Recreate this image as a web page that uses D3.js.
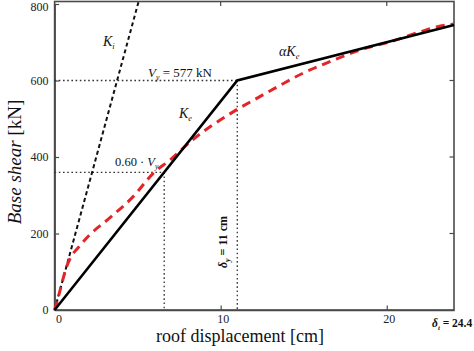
<!DOCTYPE html>
<html>
<head>
<meta charset="utf-8">
<script src="https://cdn.jsdelivr.net/npm/d3@7"></script>
<style>
  body { margin: 0; background: #fff; }
  svg { display: block; font-family: "Liberation Serif", "Times New Roman", serif; }
</style>
</head>
<body>
<svg id="chart" width="474" height="351"></svg>
<script>
"use strict";

// capacity curve (red dashed), displacement [cm] / base shear [kN]
const capX = [0, 0.15, 0.45, 0.7, 1.0, 1.4, 2.1, 3.3, 4.7, 6.0, 6.95, 8.15, 10.75, 12.2, 13.6, 15.0, 16.4, 17.6, 18.4, 20.2, 22.0, 23.0, 24.05];
const capY = [0, 22, 72, 110, 140, 162, 196, 240, 295, 360, 392, 439, 518, 554, 588, 620, 646, 667, 680, 701, 727, 740, 748];

// idealized bilinear curve (black solid)
const biX = [0, 11, 24.05];
const biY = [0, 600, 745];

// initial stiffness Ki (black dashed)
const kiX = [0, 5.05];
const kiY = [0, 805];

const yieldDisp = 11, yieldShear = 600;
const frac = 0.60;

const xTicks = [0, 10, 20];
const yTicks = [0, 200, 400, 600, 800];

const svg = d3.select("#chart");
const x = d3.scaleLinear().domain([0, 24.05]).range([54.6, 454]);
const y = d3.scaleLinear().domain([0, 800]).range([310, 4]);

const axisCol = "#4a4a4a";

// frame
svg.append("rect")
  .attr("x", x(0)).attr("y", 1.5)
  .attr("width", x(24.05) - x(0)).attr("height", y(0) - 1.5)
  .attr("fill", "none").attr("stroke", axisCol).attr("stroke-width", 1.6);

// top / right inner ticks
svg.append("g").selectAll("line").data(xTicks.filter(d => d > 0)).join("line")
  .attr("x1", d => x(d)).attr("x2", d => x(d)).attr("y1", 1.5).attr("y2", 6)
  .attr("stroke", axisCol).attr("stroke-width", 1.2);
svg.append("g").selectAll("line").data(yTicks.filter(d => d > 0 && d < 800)).join("line")
  .attr("x1", x(24.05)).attr("x2", x(24.05) - 4.5).attr("y1", d => y(d)).attr("y2", d => y(d))
  .attr("stroke", axisCol).attr("stroke-width", 1.2);

// axes
const gx = svg.append("g")
  .attr("transform", `translate(0,${y(0)})`)
  .call(d3.axisBottom(x).tickValues(xTicks).tickSizeInner(-4.5).tickSizeOuter(0).tickPadding(4.5));
const gy = svg.append("g")
  .attr("transform", `translate(${x(0)},0)`)
  .call(d3.axisLeft(y).tickValues(yTicks).tickSizeInner(-4.5).tickSizeOuter(0).tickPadding(6));

[gx, gy].forEach(g => {
  g.select(".domain").attr("stroke", axisCol).attr("stroke-width", 1.6);
  g.selectAll(".tick line").attr("stroke", axisCol).attr("stroke-width", 1.2);
  g.selectAll(".tick text")
    .attr("font-family", "Liberation Serif, serif")
    .attr("font-size", 12).attr("fill", "#222");
});
gx.selectAll(".tick text").attr("dx", d => d === 0 ? 4 : 2);
gx.selectAll(".tick line").filter(d => d === 0).remove();
gy.selectAll(".tick line").filter(d => d === 0).remove();
gy.selectAll(".tick text").filter(d => d === 800).attr("dy", "0.55em");

// dotted guide lines
const guides = [
  [[0, yieldShear], [yieldDisp, yieldShear]],
  [[yieldDisp, yieldShear], [yieldDisp, 0]],
  [[0, frac * yieldShear], [frac * yieldDisp, frac * yieldShear]],
  [[frac * yieldDisp, frac * yieldShear], [frac * yieldDisp, 0]]
];
svg.append("g").selectAll("line").data(guides).join("line")
  .attr("x1", d => x(d[0][0])).attr("y1", d => y(d[0][1]))
  .attr("x2", d => x(d[1][0])).attr("y2", d => y(d[1][1]))
  .attr("stroke", "#333").attr("stroke-width", 1.3)
  .attr("stroke-dasharray", "1.6,2.6");

const line = d3.line().x(d => x(d[0])).y(d => y(d[1]));

// Ki
svg.append("path")
  .datum(kiX.map((d, i) => [d, kiY[i]]))
  .attr("d", line).attr("fill", "none")
  .attr("stroke", "#111").attr("stroke-width", 2)
  .attr("stroke-dasharray", "4,3");

// capacity curve
svg.append("path")
  .datum(capX.map((d, i) => [d, capY[i]]))
  .attr("d", d3.line().x(d => x(d[0])).y(d => y(d[1])).curve(d3.curveMonotoneX))
  .attr("fill", "none")
  .attr("stroke", "#e3252a").attr("stroke-width", 3)
  .attr("stroke-dasharray", "9,6");

// bilinear
svg.append("path")
  .datum(biX.map((d, i) => [d, biY[i]]))
  .attr("d", line).attr("fill", "none")
  .attr("stroke", "#000").attr("stroke-width", 2.6)
  .attr("stroke-linejoin", "miter");

// annotations
function label(px, py, parts, size) {
  const t = svg.append("text").attr("x", px).attr("y", py)
    .attr("font-size", size || 13).attr("fill", "#111");
  parts.forEach(p => {
    const s = t.append("tspan").text(p.t);
    if (p.i) s.attr("font-style", "italic");
    if (p.sub) s.attr("font-size", (size || 13) * 0.6).attr("dy", 3);
    if (p.up) s.attr("dy", -3);
  });
  return t;
}
label(103, 46, [{t: "K", i: 1}, {t: "i", i: 1, sub: 1}], 14);
label(148, 77, [{t: "V", i: 1}, {t: "y", i: 1, sub: 1}, {t: " = 577 kN", up: 1}], 13);
label(179, 118, [{t: "K", i: 1}, {t: "e", i: 1, sub: 1}], 14);
label(279, 56, [{t: "α", i: 1}, {t: "K", i: 1}, {t: "e", i: 1, sub: 1}], 14);
label(115, 166, [{t: "0.60 · "}, {t: "V", i: 1}, {t: "y", i: 1, sub: 1}], 12.5);
label(432, 327, [{t: "δ", i: 1}, {t: "t", i: 1, sub: 1}, {t: " = 24.4", up: 1}], 11.5)
  .attr("font-weight", "bold");

svg.append("text")
  .attr("transform", `translate(227,242) rotate(-90)`)
  .attr("text-anchor", "middle").attr("font-size", 12).attr("font-weight", "bold").attr("fill", "#111")
  .call(t => {
    t.append("tspan").attr("font-style", "italic").text("δ");
    t.append("tspan").attr("font-style", "italic").attr("font-size", 8).attr("dy", 3).text("y");
    t.append("tspan").attr("dy", -3).text(" =  11 cm");
  });

// axis titles
svg.append("text")
  .attr("x", 240).attr("y", 342)
  .attr("text-anchor", "middle").attr("font-size", 18).attr("fill", "#111")
  .text("roof displacement [cm]");

svg.append("text")
  .attr("transform", `translate(21,162) rotate(-90)`)
  .attr("text-anchor", "middle").attr("font-size", 19).attr("fill", "#111")
  .call(t => {
    t.append("tspan").attr("font-style", "italic").text("Base shear ");
    t.append("tspan").text("[kN]");
  });
</script>
</body>
</html>
